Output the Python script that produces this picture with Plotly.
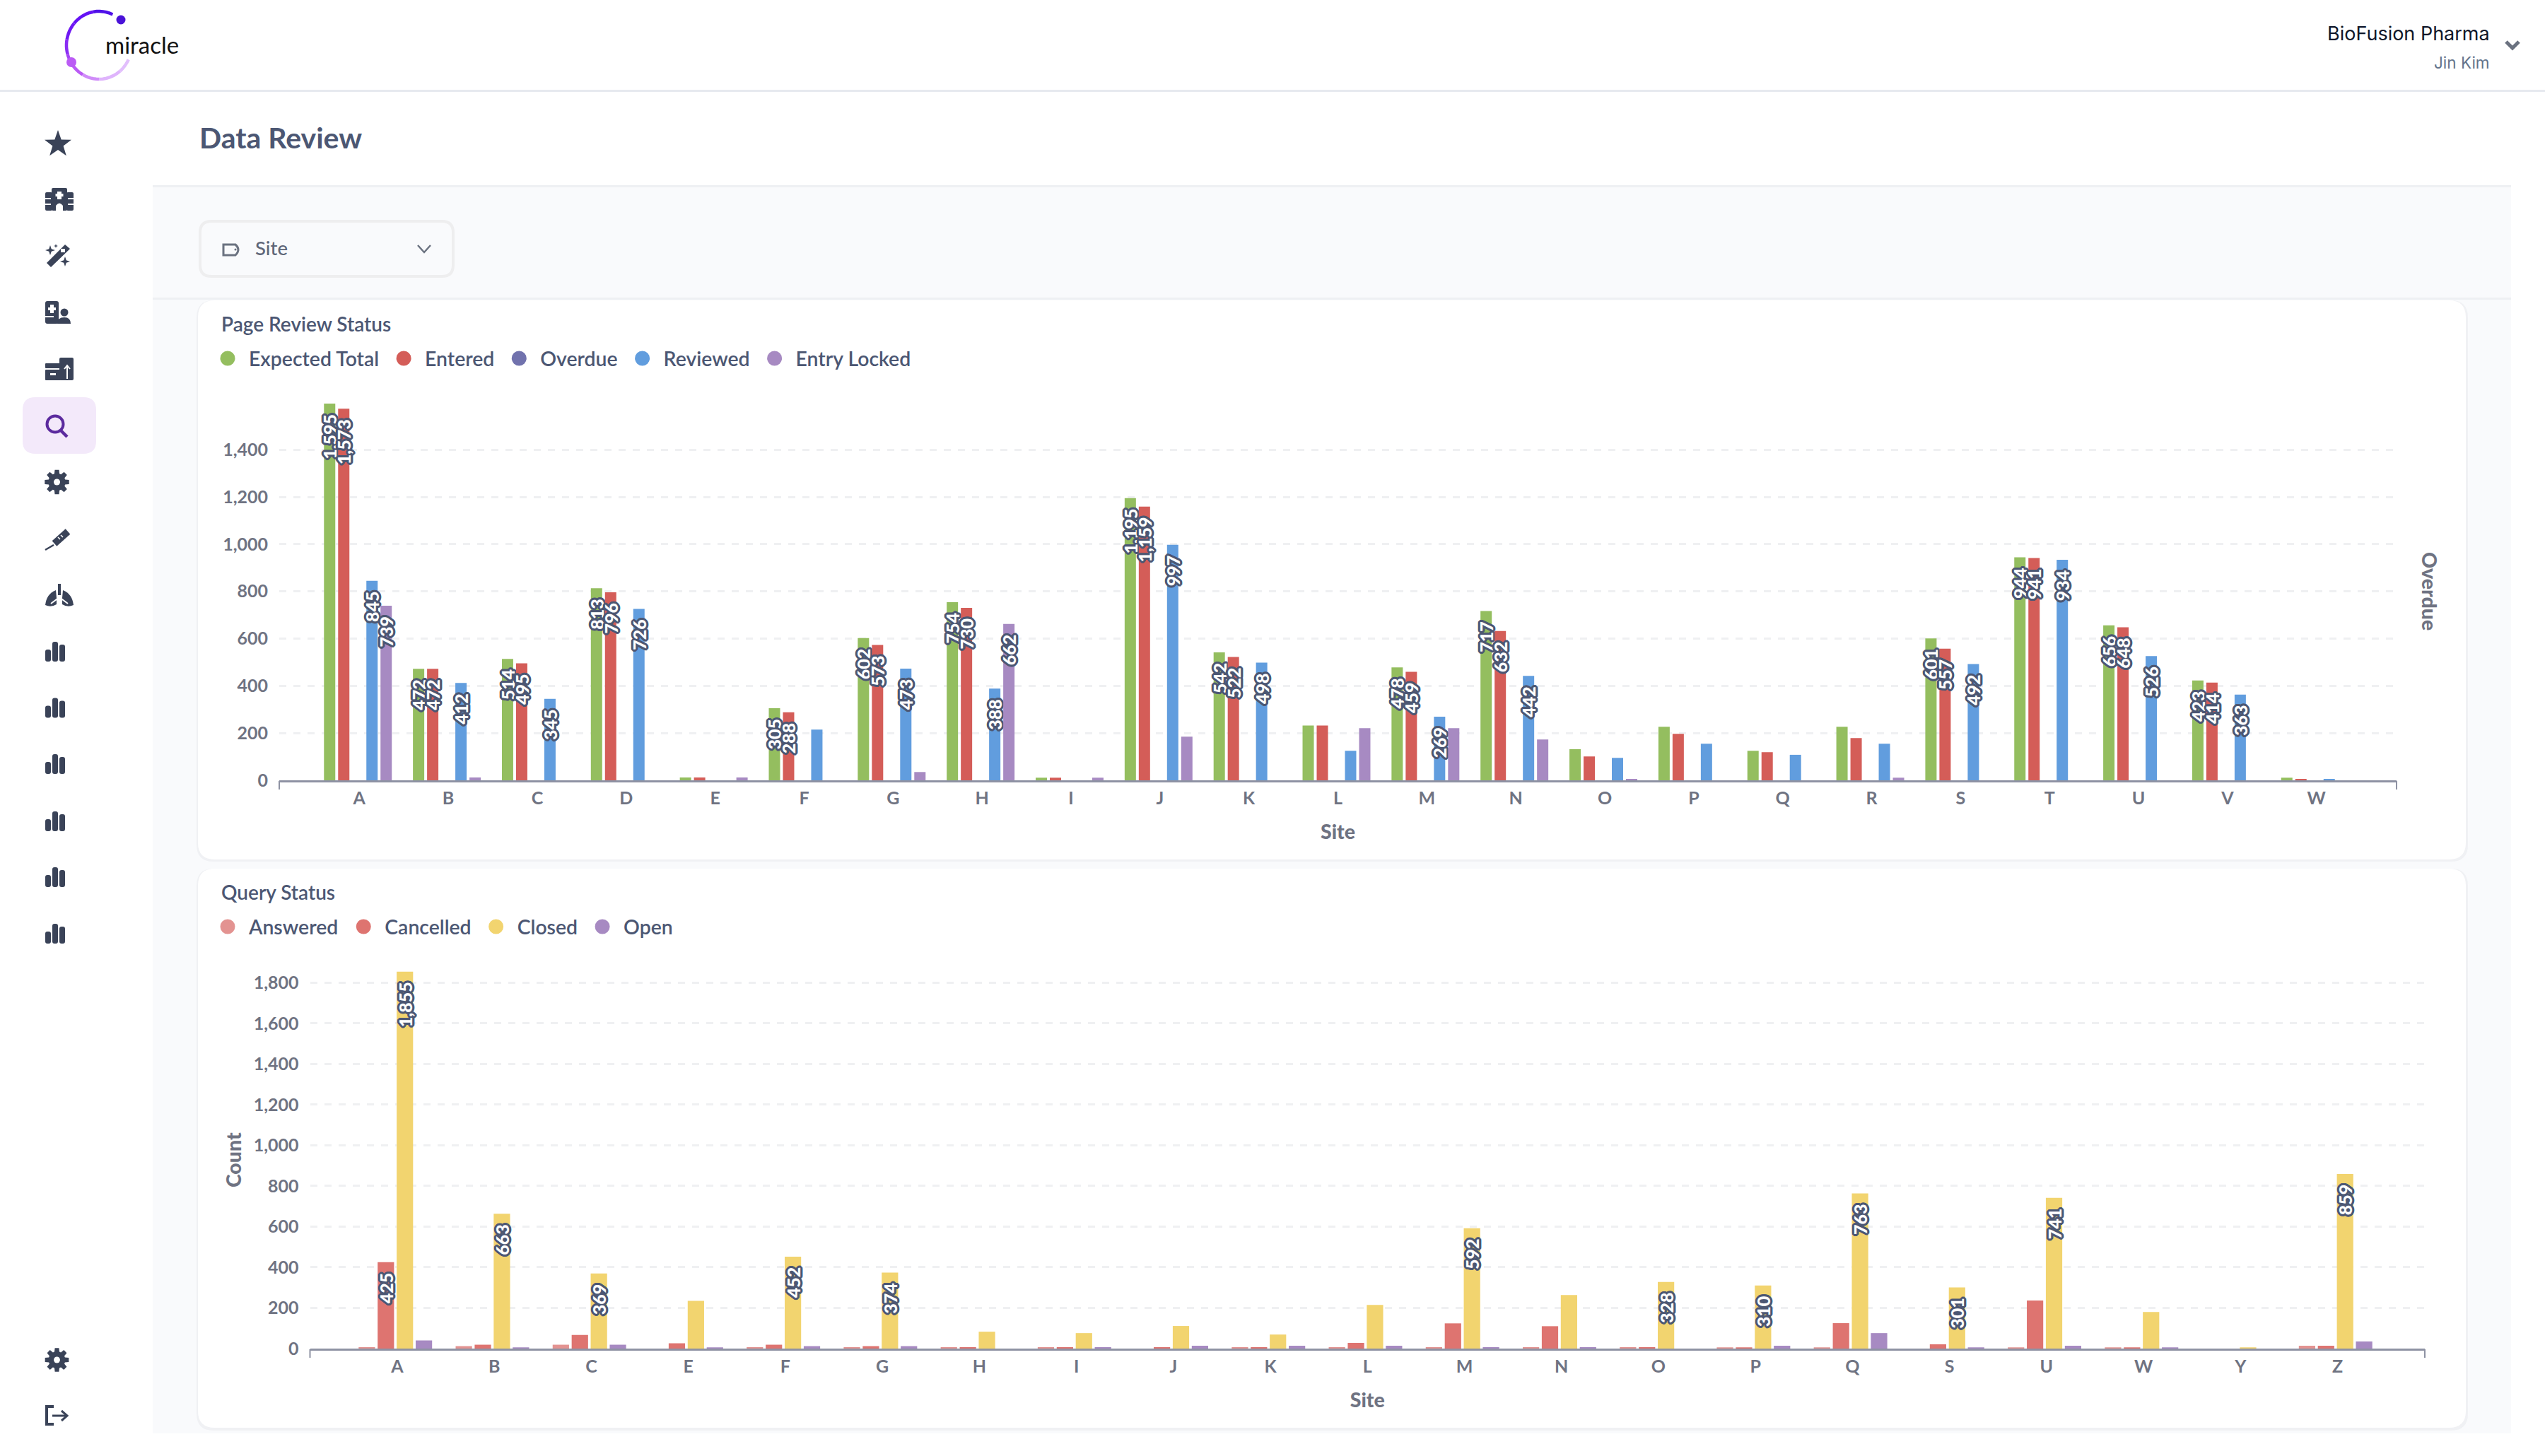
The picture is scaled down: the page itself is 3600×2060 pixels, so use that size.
import math
import re
import plotly.graph_objects as go

# ---------- data ----------
review_sites = list("ABCDEFGHIJKLMNOPQRSTUVW")
expected_total = [1595, 472, 514, 813, 12, 305, 602, 754, 11, 1195, 542, 232, 478, 717, 132, 227, 125, 227, 601, 944, 656, 423, 11]
entered = [1573, 472, 495, 796, 12, 288, 573, 730, 11, 1159, 522, 232, 459, 632, 101, 197, 119, 179, 557, 941, 648, 414, 6]
overdue = [0] * 23
reviewed = [845, 412, 345, 726, 0, 215, 473, 388, 0, 997, 498, 125, 269, 442, 95, 155, 108, 155, 492, 934, 526, 363, 6]
entry_locked = [739, 12, 0, 0, 12, 0, 35, 662, 11, 185, 0, 221, 221, 173, 6, 0, 0, 11, 0, 0, 0, 0, 0]
expected_labeled = "ABCDFGHJKMNSTUV"
entered_labeled = "ABCDFGHJKMNSTUV"
reviewed_labeled = "ABCDGHJKMNSTUV"
locked_labeled = "AH"

query_sites = list("ABCEFGHIJKLMNOPQSUWYZ")
answered = [7, 12, 19, 0, 7, 7, 7, 7, 0, 7, 7, 7, 7, 7, 6, 6, 0, 6, 6, 0, 14]
cancelled = [425, 19, 67, 26, 19, 12, 7, 7, 7, 7, 28, 124, 110, 7, 6, 125, 21, 236, 6, 0, 14]
closed = [1855, 663, 369, 235, 452, 374, 83, 76, 111, 69, 215, 592, 263, 328, 310, 763, 301, 741, 180, 6, 859]
open_q = [40, 6, 19, 6, 12, 12, 0, 7, 14, 14, 14, 7, 7, 0, 14, 76, 6, 14, 6, 0, 35]
cancelled_labeled = "A"
closed_labeled = "ABCFGMOPQSUZ"

W, H = 3600, 2060
INK = "#4c5773"
TICK = "#6f7382"
ICON = "#3a4358"
AXIS = "#8e92a3"
GRID = "#eff0f2"

shapes, annotations = [], []


def _conv(m):
    return f"{float(m.group(1)) / W:.6f} {1 - float(m.group(2)) / H:.6f}"


def path(d, fill=None, line=None, width=0, layer="below"):
    d = re.sub(r"(-?[\d.]+) (-?[\d.]+)", _conv, d)
    shapes.append(dict(type="path", xref="paper", yref="paper", path=d, layer=layer,
                       fillcolor=fill or "rgba(0,0,0,0)",
                       line=dict(color=line or "rgba(0,0,0,0)", width=width)))


def rr(x0, y0, x1, y1, r):
    return (f"M {x0 + r} {y0} L {x1 - r} {y0} Q {x1} {y0} {x1} {y0 + r} L {x1} {y1 - r} Q {x1} {y1} {x1 - r} {y1} "
            f"L {x0 + r} {y1} Q {x0} {y1} {x0} {y1 - r} L {x0} {y0 + r} Q {x0} {y0} {x0 + r} {y0} Z")


def rect(x0, y0, x1, y1, r=0, fill=ICON, line=None, width=0):
    path(rr(x0, y0, x1, y1, r) if r else f"M {x0} {y0} L {x1} {y0} L {x1} {y1} L {x0} {y1} Z", fill, line, width)


def seg(x0, y0, x1, y1, color=ICON, width=4):
    path(f"M {x0} {y0} L {x1} {y1}", None, color, width)


def circle(cx, cy, r, fill=ICON, line=None, width=0):
    shapes.append(dict(type="circle", xref="paper", yref="paper", layer="below",
                       x0=(cx - r) / W, x1=(cx + r) / W, y0=1 - (cy + r) / H, y1=1 - (cy - r) / H,
                       fillcolor=fill or "rgba(0,0,0,0)", line=dict(color=line or "rgba(0,0,0,0)", width=width)))


def text(s, x, y, size, color=INK, family="Lato", weight=400, anchor="left", angle=0):
    annotations.append(dict(text=s, x=x / W, y=1 - y / H, xref="paper", yref="paper", showarrow=False,
                            xanchor=anchor, yanchor="middle", textangle=angle, borderpad=0,
                            font=dict(family=family, size=size, color=color, weight=weight)))


def star4(cx, cy, r):
    q = r * 0.25
    path(f"M {cx} {cy - r} L {cx + q} {cy - q} L {cx + r} {cy} L {cx + q} {cy + q} L {cx} {cy + r} "
         f"L {cx - q} {cy + q} L {cx - r} {cy} L {cx - q} {cy - q} Z", ICON)


def gear(cx, cy, r):
    pts = []
    for i in range(8):
        a = i * math.pi / 4 - math.pi / 2
        for da, rad in ((-0.17, r), (0.17, r), (0.30, r * 0.70), (math.pi / 4 - 0.30, r * 0.70)):
            pts.append((cx + rad * math.cos(a + da), cy + rad * math.sin(a + da)))
    path("M " + " L ".join(f"{x:.1f} {y:.1f}" for x, y in pts) + " Z", ICON)
    circle(cx, cy, r * 0.26, "#ffffff")


# ---------- page chrome ----------
rect(216, 263, 3552, 2028, fill="#f9fafc")
rect(0, 127, 3600, 130, fill="#e6e9ef")
rect(216, 262, 3552, 265, fill="#eef0f3")
rect(216, 421, 3552, 424, fill="#eef0f3")
rect(278, 425, 3491, 1219, 24, fill="#f0f1f4")
rect(280, 425, 3488, 1216, 24, fill="#ffffff")
rect(278, 1229, 3491, 2024, 24, fill="#f0f1f4")
rect(280, 1229, 3488, 2020, 24, fill="#ffffff")
rect(283, 313, 641, 391, 16, fill="#f9fafc", line="#eeeeef", width=4)
path("M 316 346 L 333 346 Q 341 353 333 361 L 316 361 Z", None, "#6b7280", 3)
circle(333, 353, 1.5, "#6b7280")
path("M 591 347 L 600 357 L 609 347", None, "#6b7280", 2.5)
rect(32, 562, 136, 642, 18, fill="#f3e9fa")

# logo ring
cx0, cy0, rx0, ry0 = 140, 64, 46, 48
stops = [(65, "#4f10e8"), (100, "#6512f5"), (140, "#6f18f3"), (170, "#8a2df3"), (195, "#a544f5"),
         (215, "#bb5bf5"), (240, "#d08cf9"), (270, "#dfb4fc"), (310, "#e2bffc"), (335, "#d8a8fb")]
for (a0, c0), (a1, _) in zip(stops[:-1], stops[1:]):
    p = [(cx0 + rx0 * math.cos(math.radians(a)), cy0 - ry0 * math.sin(math.radians(a)))
         for a in [a0 + (a1 - a0) * t / 6 for t in range(7)]]
    path("M " + " L ".join(f"{x:.1f} {y:.1f}" for x, y in p), None, c0, 4.5)
circle(171, 28, 6.5, "#4a12d8")
circle(101, 88, 7, "#bb5bf5")
text("miracle", 148, 63, 33, "#111111")

# sidebar icons
pts = []
for i in range(10):
    a = -math.pi / 2 + i * math.pi / 5
    r = 20 if i % 2 == 0 else 8
    pts.append((82 + r * math.cos(a), 204 + r * math.sin(a)))
path("M " + " L ".join(f"{x:.1f} {y:.1f}" for x, y in pts) + " Z", ICON)

rect(64, 272, 74, 298, 2)
rect(73, 266, 95, 298, 2)
rect(94, 272, 104, 298, 2)
rect(81, 271, 87, 282, fill="#ffffff")
rect(78.5, 274, 89.5, 278, fill="#ffffff")
path("M 79 298 L 79 291 Q 84 284 89 291 L 89 298 Z", "#ffffff")
for yy in (280, 288):
    rect(64, yy, 72, yy + 2, fill="#ffffff")
    rect(96, yy, 104, yy + 2, fill="#ffffff")

path("M 66 372 L 92 346 L 99 352 L 72 378 Z", ICON)
rect(86, 352, 92, 357, fill="#ffffff")
star4(71, 354, 7)
star4(92, 370, 7)
star4(79, 348, 3)

rect(64, 426, 83, 458, 3)
rect(71, 431, 76, 443, fill="#ffffff")
rect(68, 435, 79, 439, fill="#ffffff")
rect(64, 447, 76, 449, fill="#ffffff")
circle(91, 442, 5.5)
path("M 81 458 Q 81 449 91 449 Q 100 449 100 458 Z", ICON)

rect(84, 506, 104, 538, 2)
rect(64, 514, 88, 521, 1)
rect(64, 523, 86, 538, 1)
rect(71, 528, 79, 531, fill="#ffffff")
seg(95, 517, 95, 536, "#ffffff", 2)
path("M 91 522 L 95 517 L 99 522", None, "#ffffff", 2)

circle(78, 600, 11.5, None, "#5b2a9e", 4)
seg(86, 609, 95, 618, "#5b2a9e", 4.5)

gear(80.5, 682, 17.5)

seg(77, 769, 96, 752, ICON, 10)
seg(64, 778, 76, 771, ICON, 2.5)
for xx, yy in ((82, 760), (86, 757)):
    seg(xx, yy, xx + 3, yy + 3, "#ffffff", 1.5)

path("M 79 835 Q 66 840 64 856 Q 72 860 80 855 L 80 846 Z", ICON)
path("M 89 835 Q 102 840 104 856 Q 96 860 88 855 L 88 846 Z", ICON)
seg(84, 826, 84, 842, ICON, 4)
path("M 72 854 L 84 845 L 96 854", None, "#ffffff", 2)

for yc in (924, 1003.5, 1083, 1164, 1243, 1323):
    rect(64, yc - 5, 72, yc + 12, 3)
    rect(74, yc - 16, 82, yc + 12, 3)
    rect(84, yc - 12, 92, yc + 12, 3)

gear(80.5, 1924, 17)

path("M 76 1990 L 66 1990 L 66 2015 L 76 2015", None, ICON, 4)
seg(74, 2003, 94, 2003, ICON, 3)
path("M 87 1996 L 95 2003 L 87 2010", None, ICON, 3)

# axis end ticks
for xx, y0 in ((395, 1105), (3390, 1105), (438.5, 1909), (3430, 1909)):
    seg(xx, y0, xx, y0 + 12, AXIS, 2)

text("Data Review", 281, 194.5, 41, INK, weight=700)
text("Site", 360, 351, 27.5, "#5e6678", weight=500)
text("Page Review Status", 312, 458, 28, INK, weight=600)
text("Query Status", 312, 1262, 28, INK, weight=600)
text("Overdue", 3437, 836, 28.5, TICK, weight=900, anchor="center", angle=90)
text("BioFusion Pharma", 3523, 47, 27, "#0f172a", "Inter", anchor="right")
text("Jin Kim", 3523, 88, 22.5, "#64748b", "Inter", anchor="right")
path("M 3545 59 L 3554 68 L 3563 59", None, "#6b7280", 5)

# ---------- chart ----------
fig = go.Figure()
SHADOW = ",".join(f"{dx}px {dy}px 0 {INK}" for dx in (-3, -2, -1, 0, 1, 2, 3) for dy in (-3, -2, -1, 0, 1, 2, 3)
                  if (dx or dy) and dx * dx + dy * dy <= 10)
LABEL_FONT = dict(family="Lato", size=25, color="#ffffff", weight=900, shadow=SHADOW)


def labels(cats, vals, keep):
    return [f"{v:,}\u00a0\u00a0" if c in keep else "" for c, v in zip(cats, vals)]


def bars(name, cats, vals, keep, color, start, width, xa, ya):
    fig.add_trace(go.Bar(name=name, x=cats, y=vals, xaxis=xa, yaxis=ya, marker=dict(color=color, line=dict(width=0)),
                         width=width, offset=start, showlegend=False, text=labels(cats, vals, keep),
                         textposition="inside", insidetextanchor="end", textangle=-90, constraintext="none",
                         cliponaxis=False, textfont=LABEL_FONT))


def proxy(name, cat, color, xa, ya, legend):
    fig.add_trace(go.Scatter(name=name, x=[cat], y=[None], xaxis=xa, yaxis=ya, mode="markers", legend=legend,
                             marker=dict(color=color, size=16, symbol="circle", line=dict(color=color, width=5))))


u1 = 1 / 125.9
s1 = [("Expected Total", expected_total, expected_labeled, "#94be5f"),
      ("Entered", entered, entered_labeled, "#d45d58"),
      ("Overdue", overdue, "", "#7172ad"),
      ("Reviewed", reviewed, reviewed_labeled, "#619dde"),
      ("Entry Locked", entry_locked, locked_labeled, "#a78ac2")]
for i, (n, v, k, c) in enumerate(s1):
    bars(n, review_sites, v, k, c, (-50 + 20 * i) * u1, 16 * u1, "x", "y")
for n, v, k, c in s1:
    proxy(n, review_sites[0], c, "x", "y", "legend")

u2 = 1 / 137.2
s2 = [("Answered", answered, "", "#e39391"),
      ("Cancelled", cancelled, cancelled_labeled, "#de7470"),
      ("Closed", closed, closed_labeled, "#f2d46f"),
      ("Open", open_q, "", "#a78ac2")]
for i, (n, v, k, c) in enumerate(s2):
    bars(n, query_sites, v, k, c, (-54.7 + 26.9 * i) * u2, 23.2 * u2, "x2", "y2")
for n, v, k, c in s2:
    proxy(n, query_sites[0], c, "x2", "y2", "legend2")

TICKF = dict(family="Lato", size=25, color=TICK, weight=700)
TITLEF = dict(family="Lato", size=28.5, color=TICK, weight=900)


def xaxis(cats, rng, dom):
    return dict(type="category", categoryorder="array", categoryarray=cats, range=rng, domain=dom, automargin=False,
                showline=True, linecolor=AXIS, linewidth=3, showgrid=False, zeroline=False, ticks="",
                tickfont=TICKF, ticklabelstandoff=1, tickangle=0, dtick=1,
                title=dict(text="Site", font=TITLEF, standoff=26))


def yaxis(rng, dom):
    return dict(range=rng, domain=dom, dtick=200, tickformat=",", showline=False, zeroline=False, ticks="",
                automargin=False, tickfont=TICKF, ticklabelstandoff=15, showgrid=True, gridcolor=GRID, gridwidth=3,
                griddash="10px,10px")


LEG = dict(orientation="h", xanchor="left", yanchor="middle", itemwidth=50, bgcolor="rgba(0,0,0,0)",
           font=dict(family="Lato", size=28.4, color=INK, weight=600), borderwidth=0, itemsizing="trace")

fig.update_layout(
    width=W, height=H, margin=dict(l=0, r=0, t=0, b=0, autoexpand=False), paper_bgcolor="#ffffff",
    plot_bgcolor="rgba(0,0,0,0)",
    barmode="overlay", font=dict(family="Lato"), shapes=shapes, annotations=annotations,
    xaxis=dict(**xaxis(review_sites, [-0.9, 22.9], [395 / W, 3390 / W]), anchor="y"),
    yaxis=dict(**yaxis([0, 1595], [1 - 1104 / H, 1 - 571 / H]), anchor="x"),
    xaxis2=dict(**xaxis(query_sites, [-0.9, 20.9], [438.5 / W, 3430 / W]), anchor="y2"),
    yaxis2=dict(**yaxis([0, 1855], [1 - 1908 / H, 1 - 1374.4 / H]), anchor="x2",
                title=dict(text="Count", font=TITLEF, standoff=8)),
    legend=dict(**LEG, x=292 / W, y=1 - 507 / H),
    legend2=dict(**LEG, x=292 / W, y=1 - 1311 / H),
    showlegend=True,
)

fig.write_html("out.html", config={"displayModeBar": False},
               post_script="document.documentElement.style.overflow='hidden';document.body.style.margin='0';"
                           "document.body.style.overflow='hidden';document.body.style.height='2060px';")
